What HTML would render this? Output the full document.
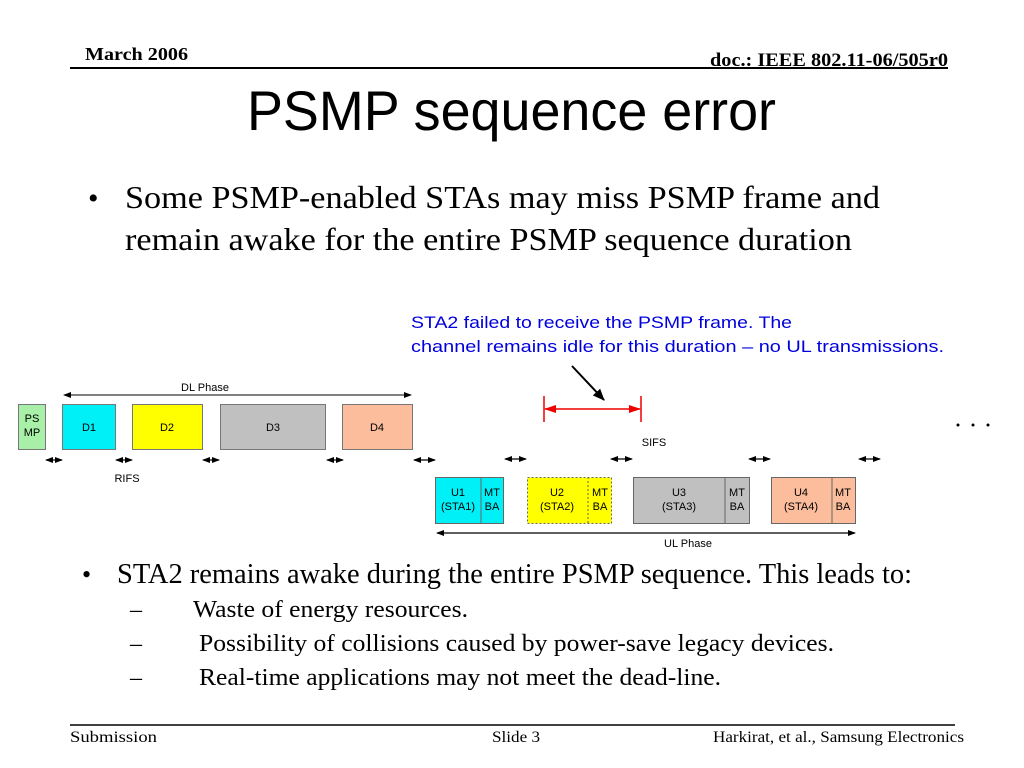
<!DOCTYPE html>
<html><head><meta charset="utf-8"><style>
html,body{margin:0;padding:0;background:#fff;}
svg{display:block;}
.t{font-family:"Liberation Serif",serif;}
.s{font-family:"Liberation Sans",sans-serif;}
</style></head><body>
<svg width="1024" height="768" viewBox="0 0 1024 768" xmlns="http://www.w3.org/2000/svg">
<defs>
<marker id="a" markerWidth="8" markerHeight="6" refX="7" refY="3" orient="auto-start-reverse" markerUnits="userSpaceOnUse"><path d="M0,0 L8,3 L0,6 z" fill="#000"/></marker>
<marker id="r" markerWidth="12" markerHeight="8" refX="11" refY="4" orient="auto-start-reverse" markerUnits="userSpaceOnUse"><path d="M0,0 L12,4 L0,8 z" fill="#e00"/></marker>
<marker id="b" markerWidth="12" markerHeight="10" refX="11" refY="5" orient="auto" markerUnits="userSpaceOnUse"><path d="M0,0 L12,5 L0,10 z" fill="#000"/></marker>
</defs>
<text class="t" x="85" y="60" font-size="18" font-weight="bold" textLength="103" lengthAdjust="spacingAndGlyphs">March 2006</text>
<text class="t" x="710" y="66" font-size="19" font-weight="bold" textLength="238" lengthAdjust="spacingAndGlyphs">doc.: IEEE 802.11-06/505r0</text>
<line x1="70" y1="68" x2="948" y2="68" stroke="#000" stroke-width="2"/>
<text class="s" x="247" y="130" font-size="56" textLength="529" lengthAdjust="spacingAndGlyphs">PSMP sequence error</text>
<text class="t" x="88" y="208" font-size="30">•</text>
<text class="t" x="125" y="208" font-size="32" textLength="755" lengthAdjust="spacingAndGlyphs">Some PSMP-enabled STAs may miss PSMP frame and</text>
<text class="t" x="125" y="250" font-size="32" textLength="727" lengthAdjust="spacingAndGlyphs">remain awake for the entire PSMP sequence duration</text>
<text class="s" x="411" y="328" font-size="17" fill="#0000dd" textLength="381" lengthAdjust="spacingAndGlyphs">STA2 failed to receive the PSMP frame. The</text>
<text class="s" x="411" y="352" font-size="17" fill="#0000dd" textLength="533" lengthAdjust="spacingAndGlyphs">channel remains idle for this duration – no UL transmissions.</text>
<line x1="572" y1="366" x2="604" y2="400" stroke="#000" stroke-width="2" marker-end="url(#b)"/>
<line x1="544" y1="396" x2="544" y2="422" stroke="#e00" stroke-width="1.5"/>
<line x1="641" y1="396" x2="641" y2="422" stroke="#e00" stroke-width="1.5"/>
<line x1="545" y1="409" x2="640" y2="409" stroke="#e00" stroke-width="1.5" marker-start="url(#r)" marker-end="url(#r)"/>
<text class="s" x="205" y="391" font-size="11" text-anchor="middle">DL Phase</text>
<line x1="64" y1="395" x2="411" y2="395" stroke="#000" marker-start="url(#a)" marker-end="url(#a)"/>
<g stroke="#777">
<rect x="18.5" y="404.5" width="27" height="45" fill="#a8f0a8"/>
<rect x="62.5" y="404.5" width="53" height="45" fill="#00f0f8"/>
<rect x="132.5" y="404.5" width="70" height="45" fill="#ffff00"/>
<rect x="220.5" y="404.5" width="105" height="45" fill="#c0c0c0"/>
<rect x="342.5" y="404.5" width="70" height="45" fill="#fbbd9c"/>
</g>
<g class="s" font-size="11" text-anchor="middle">
<text x="32" y="422">PS</text><text x="32" y="436">MP</text>
<text x="89" y="431">D1</text><text x="167" y="431">D2</text><text x="273" y="431">D3</text><text x="377" y="431">D4</text>
<text x="127" y="482">RIFS</text>
<text x="654" y="446">SIFS</text>
<text x="688" y="547">UL Phase</text>
</g>
<g stroke="#000" stroke-width="1.2">
<line x1="46" y1="460" x2="62" y2="460" marker-start="url(#a)" marker-end="url(#a)"/>
<line x1="116" y1="460" x2="132" y2="460" marker-start="url(#a)" marker-end="url(#a)"/>
<line x1="203" y1="460" x2="219" y2="460" marker-start="url(#a)" marker-end="url(#a)"/>
<line x1="327" y1="460" x2="343" y2="460" marker-start="url(#a)" marker-end="url(#a)"/>
<line x1="414" y1="460" x2="435" y2="460" marker-start="url(#a)" marker-end="url(#a)"/>
<line x1="505" y1="459" x2="526" y2="459" marker-start="url(#a)" marker-end="url(#a)"/>
<line x1="611" y1="459" x2="632" y2="459" marker-start="url(#a)" marker-end="url(#a)"/>
<line x1="749" y1="459" x2="770" y2="459" marker-start="url(#a)" marker-end="url(#a)"/>
<line x1="859" y1="459" x2="880" y2="459" marker-start="url(#a)" marker-end="url(#a)"/>
<line x1="437" y1="533" x2="855" y2="533" marker-start="url(#a)" marker-end="url(#a)"/>
</g>
<g stroke="#666">
<rect x="435.5" y="477.5" width="68" height="46" fill="#00f0f8"/><line x1="481" y1="477" x2="481" y2="524"/>
<rect x="527.5" y="477.5" width="84" height="46" fill="#ffff00" stroke-dasharray="2,2"/><line x1="588" y1="477" x2="588" y2="524" stroke-dasharray="2,2"/>
<rect x="633.5" y="477.5" width="116" height="46" fill="#c0c0c0"/><line x1="725" y1="477" x2="725" y2="524"/>
<rect x="771.5" y="477.5" width="84" height="46" fill="#fbbd9c"/><line x1="832" y1="477" x2="832" y2="524"/>
</g>
<g class="s" font-size="11" text-anchor="middle">
<text x="458" y="496">U1</text><text x="458" y="510">(STA1)</text><text x="492" y="496">MT</text><text x="492" y="510">BA</text>
<text x="557" y="496">U2</text><text x="557" y="510">(STA2)</text><text x="600" y="496">MT</text><text x="600" y="510">BA</text>
<text x="679" y="496">U3</text><text x="679" y="510">(STA3)</text><text x="737" y="496">MT</text><text x="737" y="510">BA</text>
<text x="801" y="496">U4</text><text x="801" y="510">(STA4)</text><text x="843" y="496">MT</text><text x="843" y="510">BA</text>
</g>
<g fill="#000"><circle cx="958" cy="425" r="1.5"/><circle cx="973" cy="425" r="1.5"/><circle cx="988" cy="425" r="1.5"/></g>
<text class="t" x="82" y="583" font-size="26">•</text>
<text class="t" x="117" y="583" font-size="28" textLength="795" lengthAdjust="spacingAndGlyphs">STA2 remains awake during the entire PSMP sequence. This leads to:</text>
<g class="t" font-size="24">
<text x="130" y="617">–</text><text x="193" y="617" textLength="275" lengthAdjust="spacingAndGlyphs">Waste of energy resources.</text>
<text x="130" y="651">–</text><text x="199" y="651" textLength="635" lengthAdjust="spacingAndGlyphs">Possibility of collisions caused by power-save legacy devices.</text>
<text x="130" y="685">–</text><text x="199" y="685" textLength="522" lengthAdjust="spacingAndGlyphs">Real-time applications may not meet the dead-line.</text>
</g>
<line x1="70" y1="725" x2="955" y2="725" stroke="#000" stroke-width="1.5"/>
<g class="t" font-size="16">
<text x="70" y="742" textLength="87" lengthAdjust="spacingAndGlyphs">Submission</text>
<text x="492" y="742" textLength="48" lengthAdjust="spacingAndGlyphs">Slide 3</text>
<text x="713" y="742" textLength="251" lengthAdjust="spacingAndGlyphs">Harkirat, et al., Samsung Electronics</text>
</g>
</svg>
</body></html>
